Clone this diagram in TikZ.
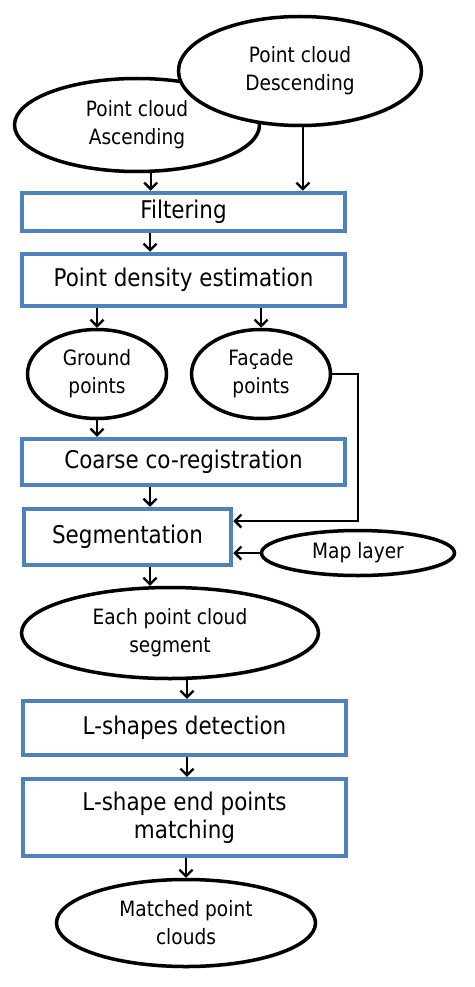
\documentclass[tikz,border=0pt]{standalone}
\usepackage{fontspec}
\setmainfont{DejaVu Sans}[FakeStretch=0.88]
\usetikzlibrary{shapes.geometric,arrows.meta,shadows}
\definecolor{boxblue}{RGB}{79,129,189}
\tikzset{
  procbox/.style={draw=boxblue, line width=4.5pt, fill=white, rectangle, inner sep=0pt,
    align=center, font=\fontsize{24.4}{28}\selectfont,
    drop shadow={shadow xshift=1pt, shadow yshift=-2pt, fill=black, opacity=0.22}},
  databox/.style={draw=black, line width=3.5pt, fill=white, ellipse, inner sep=0pt,
    align=center, font=\fontsize{21.1}{28}\selectfont,
    drop shadow={shadow xshift=1pt, shadow yshift=-2pt, fill=black, opacity=0.15}},
  arr/.style={line width=2.3pt, -{Straight Barb[length=6.5pt, width=13pt]}},
  link/.style={line width=2.3pt, -{Straight Barb[length=6.5pt, width=13pt]}}
}
\begin{document}
\begin{tikzpicture}[x=1pt, y=-1pt]
\useasboundingbox (0,0) rectangle (474,987);
\fill[white] (0,0) rectangle (474,987);
\coordinate (c) at (150,0);
\coordinate (c2) at (187,0);

\node[databox, minimum width=245pt, minimum height=93pt] (asc) at (137,125) {Point cloud\\Ascending};
\node[databox, minimum width=243pt, minimum height=109pt] (desc) at (300,71) {Point cloud\\Descending};

\node[procbox, minimum width=323pt, minimum height=38pt] (filt) at (183.5,212) {Filtering};
\node[procbox, minimum width=323pt, minimum height=52pt] (pde) at (183.5,280) {Point density estimation};

\node[databox, minimum width=139pt, minimum height=89pt] (ground) at (97,374) {Ground\\points};
\node[databox, minimum width=139pt, minimum height=89pt] (facade) at (261,374) {Façade\\points};

\node[procbox, minimum width=323pt, minimum height=46pt] (coarse) at (183.5,462) {Coarse co-registration};
\node[procbox, minimum width=207pt, minimum height=56pt] (seg) at (127.5,537) {Segmentation};
\node[databox, minimum width=193pt, minimum height=45pt] (map) at (358,553) {Map layer};

\node[databox, minimum width=297pt, minimum height=91pt] (each) at (170,633) {Each point cloud\\segment};
\node[procbox, minimum width=323pt, minimum height=54pt] (lsd) at (184.5,728) {L-shapes detection};
\node[procbox, minimum width=323pt, minimum height=77pt] (lsm) at (184.5,817.5) {L-shape end points\\matching};
\node[databox, minimum width=259pt, minimum height=87pt] (matched) at (186,923) {Matched point\\clouds};

\coordinate (fcorner) at (358,521);

\draw[arr] (asc.-74) -- (asc.-74 |- filt.north);
\draw[arr] (desc.-87) -- (desc.-87 |- filt.north);
\draw[arr] (c |- filt.south) -- (c |- pde.north);
\draw[arr] (ground.north |- pde.south) -- (ground.north);
\draw[arr] (facade.north |- pde.south) -- (facade.north);
\draw[arr] (ground.south) -- (ground.south |- coarse.north);
\draw[arr] (c |- coarse.south) -- (c |- seg.north);
\draw[link] (facade.east) -| (fcorner) -- (fcorner -| seg.east);
\draw[arr] (map.west) -- (map.west -| seg.east);
\draw[arr] (c |- seg.south) -- (c |- each.north);
\draw[arr] (c2 |- each.south) -- (c2 |- lsd.north);
\draw[arr] (c2 |- lsd.south) -- (c2 |- lsm.north);
\draw[arr] (matched.north |- lsm.south) -- (matched.north);
\end{tikzpicture}
\end{document}
